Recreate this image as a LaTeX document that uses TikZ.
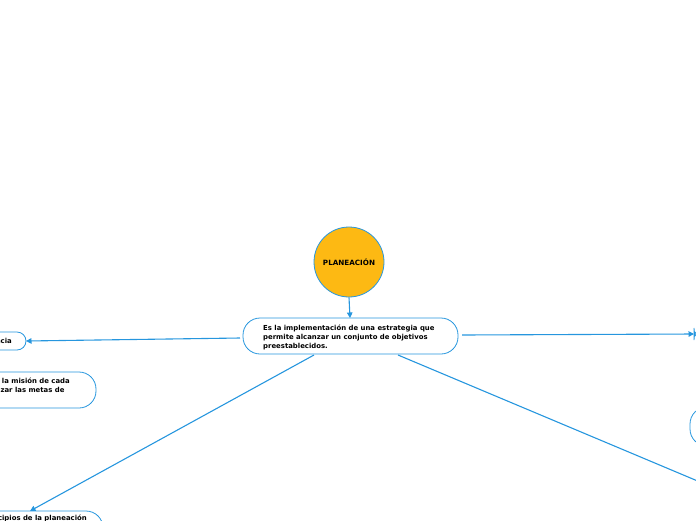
\documentclass[tikz,border=0pt]{standalone}
\usepackage{fontspec}
\setmainfont{DejaVu Sans}
\usetikzlibrary{arrows.meta}
\definecolor{lineblue}{RGB}{38,150,222}
\definecolor{orangefill}{RGB}{253,185,19}
\tikzset{
  conn/.style={draw=lineblue, line width=1.1pt, -{Triangle[length=5.5pt,width=5.5pt]}},
  plainconn/.style={draw=lineblue, line width=1.1pt},
  topicbox/.style={draw=lineblue, line width=0.8pt, fill=white, rounded corners=17pt},
  txt/.style={font=\fontsize{6.9}{9.2}\selectfont\bfseries, anchor=north west, align=left, inner sep=0pt},
}
\begin{document}
\begin{tikzpicture}[x=1pt,y=-1pt]
\useasboundingbox (0,0) rectangle (696,520);
% central circle
\node[circle, draw=lineblue, line width=0.8pt, fill=orangefill, minimum size=70pt, inner sep=0pt,
      font=\fontsize{7.2}{8}\selectfont\bfseries] (root) at (349,262) {PLANEACIÓN};
% main box
\draw[topicbox] (243,318) rectangle (458,354);
\coordinate (mainT) at (350,318);
\coordinate (mainL) at (243,338);
\coordinate (mainR) at (458,335);
\coordinate (mainBL) at (314,355);
\coordinate (mainBR) at (398,355);
\node[txt] (maintxt) at (263,324.5) {Es la implementación de una estrategia que\\permite alcanzar un conjunto de objetivos\\preestablecidos.};
% left box 1
\draw[topicbox, rounded corners=9pt] (-80,332) rectangle (26,350);
\coordinate (l1R) at (26,341);
\node[txt, anchor=north east] (l1txt) at (12,338) {Eficiencia};
% left box 2
\draw[topicbox] (-120,372) rectangle (96,408);
\node[txt, anchor=north east] (l2txt) at (70,378) {Cumplir con la misión de cada\\área y alcanzar las metas de};
% bottom left box
\draw[topicbox] (-120,511) rectangle (103,560);
\coordinate (blT) at (30,511);
\node[txt, anchor=north east] (bltxt) at (87,515) {Principios de la planeación};
% right nodes
\draw[topicbox] (694,323) rectangle (800,345);
\coordinate (r1L) at (694,334);
\draw[topicbox] (690,407) rectangle (800,446);
% connectors
\draw[conn] (root.south) -- (mainT);
\draw[conn] (mainL) ++(-3,0) -- (l1R);
\draw[conn] (mainR) ++(4,0) -- (r1L);
\draw[conn] (mainBL) -- (blT);
\draw[plainconn] (mainBR) -- (700,482);
\end{tikzpicture}
\end{document}
